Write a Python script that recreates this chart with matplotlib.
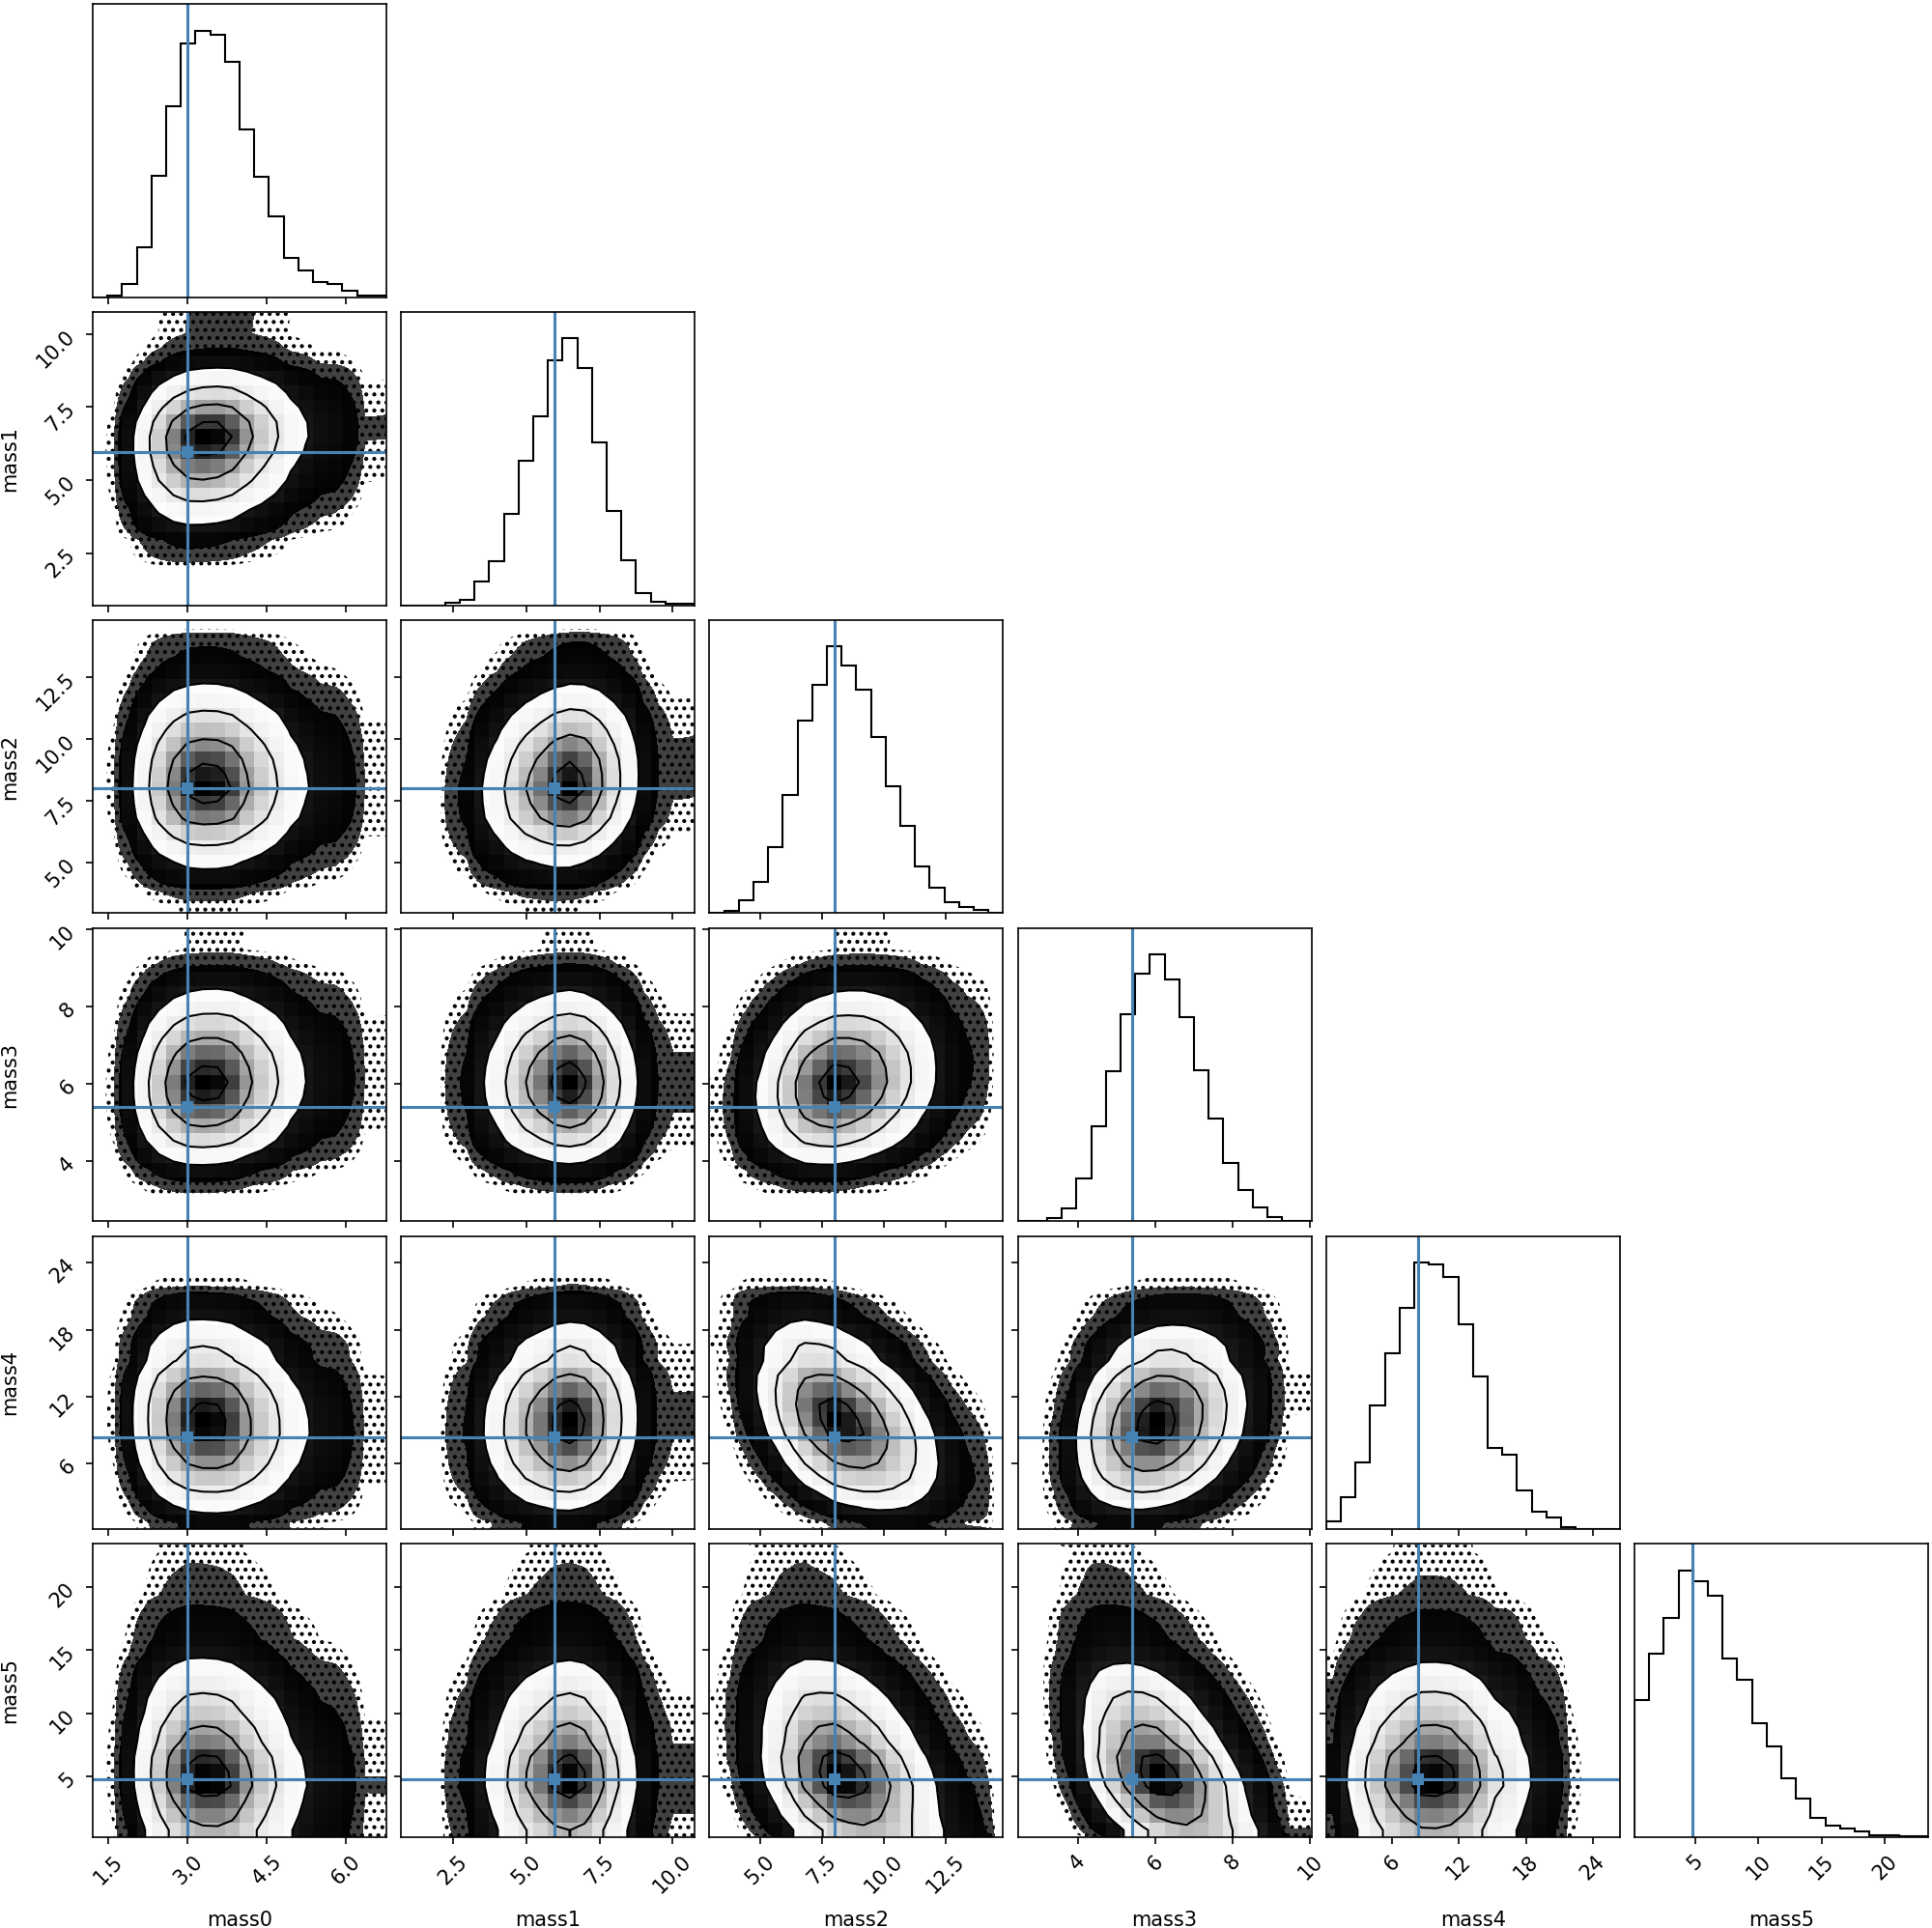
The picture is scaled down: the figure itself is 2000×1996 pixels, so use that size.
import math
import numpy as np
import matplotlib
matplotlib.use("Agg")
import matplotlib.pyplot as plt
from matplotlib.colors import LinearSegmentedColormap

# parameter names, true values and plotted ranges
labels = ["mass0", "mass1", "mass2", "mass3", "mass4", "mass5"]
truths = [3.0, 5.95, 8.0, 5.4, 8.35, 4.8]
ranges = [(1.2, 6.76), (0.71, 10.76), (2.97, 14.8), (2.45, 10.03), (0.12, 26.4), (0.2, 23.4)]

# marginal histograms (20 bins each, relative counts)
counts_mass0 = [0, 3, 30, 116, 282, 444, 589, 620, 611, 548, 389, 279, 188, 92, 62, 35, 31, 16, 3, 3]
counts_mass1 = [0, 0, 0, 6, 12, 55, 103, 211, 335, 439, 569, 619, 551, 378, 218, 105, 28, 9, 4, 4]
counts_mass2 = [2, 8, 41, 96, 205, 366, 597, 706, 825, 765, 692, 546, 394, 269, 146, 78, 35, 18, 11, 0]
counts_mass3 = [0, 0, 9, 39, 132, 295, 465, 641, 767, 825, 747, 633, 468, 319, 179, 96, 44, 13, 2, 2]
counts_mass4 = [18, 73, 153, 282, 401, 504, 606, 603, 574, 466, 348, 185, 169, 89, 41, 28, 4, 1, 0, 0]
counts_mass5 = [312, 417, 497, 605, 582, 548, 405, 357, 258, 207, 135, 88, 45, 26, 20, 13, 5, 4, 3, 2]
hist_counts = [counts_mass0, counts_mass1, counts_mass2, counts_mass3, counts_mass4, counts_mass5]

# pairwise correlation (estimated from the shape of the 2d panels)
corr = {(0, 1): 0.10, (0, 2): 0.0, (1, 2): 0.10, (0, 3): 0.05, (1, 3): 0.0,
        (2, 3): 0.15, (0, 4): -0.05, (1, 4): 0.05, (2, 4): -0.40, (3, 4): 0.20,
        (0, 5): -0.05, (1, 5): 0.0, (2, 5): -0.30, (3, 5): -0.40, (4, 5): 0.0}

ticks = [[1.5, 3.0, 4.5, 6.0], [2.5, 5.0, 7.5, 10.0], [5.0, 7.5, 10.0, 12.5],
         [4, 6, 8, 10], [6, 12, 18, 24], [5, 10, 15, 20]]
tick_labels = [["1.5", "3.0", "4.5", "6.0"], ["2.5", "5.0", "7.5", "10.0"],
               ["5.0", "7.5", "10.0", "12.5"], ["4", "6", "8", "10"],
               ["6", "12", "18", "24"], ["5", "10", "15", "20"]]

NB = 20
SUB = 10
truth_color = "#4682b4"

# normal quantile by table lookup
erf = np.vectorize(math.erf)
zg = np.linspace(-6, 6, 2401)
pg = 0.5 * (1 + erf(zg / np.sqrt(2)))


def norm_ppf(p):
    return np.interp(np.clip(p, pg[0], pg[-1]), pg, zg)


def marginal(k):
    lo, hi = ranges[k]
    counts = np.array(hist_counts[k], float)
    edges = np.linspace(lo, hi, NB + 1)
    centers = 0.5 * (edges[1:] + edges[:-1])
    xf = lo + (np.arange(NB * SUB) + 0.5) * (hi - lo) / (NB * SUB)
    pdf = np.interp(xf, centers, counts)
    pdf /= pdf.sum()
    cdf = np.cumsum(pdf) - 0.5 * pdf
    return xf, pdf, norm_ppf(cdf), edges


def joint(i, j):
    # density on a fine grid, gaussian copula between the two marginals
    xf, px, zx, ex = marginal(j)
    yf, py, zy, ey = marginal(i)
    r = corr[(min(i, j), max(i, j))]
    a = zx[:, None]
    b = zy[None, :]
    c = np.exp(-(r ** 2 * (a ** 2 + b ** 2) - 2 * r * a * b) / (2 * (1 - r ** 2))) / np.sqrt(1 - r ** 2)
    f = px[:, None] * py[None, :] * c
    return xf, yf, f / f.sum(), ex, ey


def mass_level(f, q):
    s = np.sort(f.ravel())[::-1]
    cs = np.cumsum(s)
    cs /= cs[-1]
    return s[min(np.searchsorted(cs, q), len(s) - 1)]


density_cmap = LinearSegmentedColormap.from_list("density_cmap", ["k", (1, 1, 1, 0)])
# noisy sample histograms give wider contours than the smooth model, so stretch a bit
sig_levels = 1.0 - np.exp(-0.5 * (1.1 * np.arange(0.5, 2.1, 0.5)) ** 2)

plt.rcParams["font.size"] = 10
plt.rcParams["hatch.color"] = "k"
plt.rcParams["hatch.linewidth"] = 1.2
fig, axes = plt.subplots(6, 6, figsize=(2000 / 150, 1996 / 150), dpi=150)
fig.subplots_adjust(left=0.048, right=0.998, bottom=0.047, top=0.998, wspace=0.05, hspace=0.05)

for i in range(6):
    for j in range(6):
        ax = axes[i, j]
        if j > i:
            ax.axis("off")
            continue
        if i == j:
            lo, hi = ranges[i]
            edges = np.linspace(lo, hi, NB + 1)
            cnt = np.array(hist_counts[i], float)
            ax.stairs(cnt, edges, color="k", linewidth=1.0, baseline=0)
            ax.axvline(truths[i], color=truth_color, lw=1.5)
            ax.set_xlim(lo, hi)
            ax.set_ylim(0, 1.1 * cnt.max())
            ax.set_yticks([])
        else:
            xf, yf, f, ex, ey = joint(i, j)
            # coarse 20x20 histogram
            H = f.reshape(NB, SUB, NB, SUB).mean(axis=(1, 3))
            Hflat = np.sort(H.ravel())[::-1]
            sm = np.cumsum(Hflat)
            sm /= sm[-1]
            V = np.empty(len(sig_levels))
            for k, v0 in enumerate(sig_levels):
                sel = Hflat[sm <= v0]
                V[k] = sel[-1] if len(sel) else Hflat[0]
            V.sort()
            H2 = H.min() + np.zeros((NB + 4, NB + 4))
            H2[2:-2, 2:-2] = H
            H2[2:-2, 1] = H[:, 0]
            H2[2:-2, -2] = H[:, -1]
            H2[1, 2:-2] = H[0]
            H2[-2, 2:-2] = H[-1]
            H2[1, 1] = H[0, 0]
            H2[1, -2] = H[0, -1]
            H2[-2, 1] = H[-1, 0]
            H2[-2, -2] = H[-1, -1]
            X1 = 0.5 * (ex[1:] + ex[:-1])
            Y1 = 0.5 * (ey[1:] + ey[:-1])
            X2 = np.concatenate([X1[0] + np.array([-2, -1]) * np.diff(X1[:2]), X1,
                                 X1[-1] + np.array([1, 2]) * np.diff(X1[-2:])])
            Y2 = np.concatenate([Y1[0] + np.array([-2, -1]) * np.diff(Y1[:2]), Y1,
                                 Y1[-1] + np.array([1, 2]) * np.diff(Y1[-2:])])

            # cloud of samples outside the contours: solid core, dotted fringe
            t1 = mass_level(f, 0.986)
            t2 = mass_level(f, 0.996)
            t3 = mass_level(f, 0.999)
            ax.contourf(xf, yf, f.T, [t3, t2], colors="none", hatches=["..."])
            ax.contourf(xf, yf, f.T, [t2, t1], colors="0.25", hatches=["..."])
            ax.contourf(xf, yf, f.T, [t1, f.max() * 1.01], colors="k", antialiased=False)
            ax.contourf(X2, Y2, H2.T, [V.min(), H.max()], colors=["w"], antialiased=False)
            ax.pcolormesh(ex, ey, H.max() - H.T, cmap=density_cmap, shading="flat")
            ax.contour(X2, Y2, H2.T, V, colors="k", linewidths=1.0)

            ax.axvline(truths[j], color=truth_color, lw=1.5)
            ax.axhline(truths[i], color=truth_color, lw=1.5)
            ax.plot(truths[j], truths[i], "s", color=truth_color, ms=5)
            ax.set_xlim(ranges[j])
            ax.set_ylim(ranges[i])
            ax.set_yticks(ticks[i])
            if j == 0:
                ax.set_yticklabels(tick_labels[i], rotation=45)
                ax.set_ylabel(labels[i])
                ax.yaxis.set_label_coords(-0.25, 0.5)
            else:
                ax.set_yticklabels([])

        ax.set_xticks(ticks[j])
        if i == 5:
            ax.set_xticklabels(tick_labels[j], rotation=45)
            ax.set_xlabel(labels[j])
            ax.xaxis.set_label_coords(0.5, -0.25)
        else:
            ax.set_xticklabels([])
        ax.set_xlim(ranges[j])

fig.savefig("out.png", dpi=150)
